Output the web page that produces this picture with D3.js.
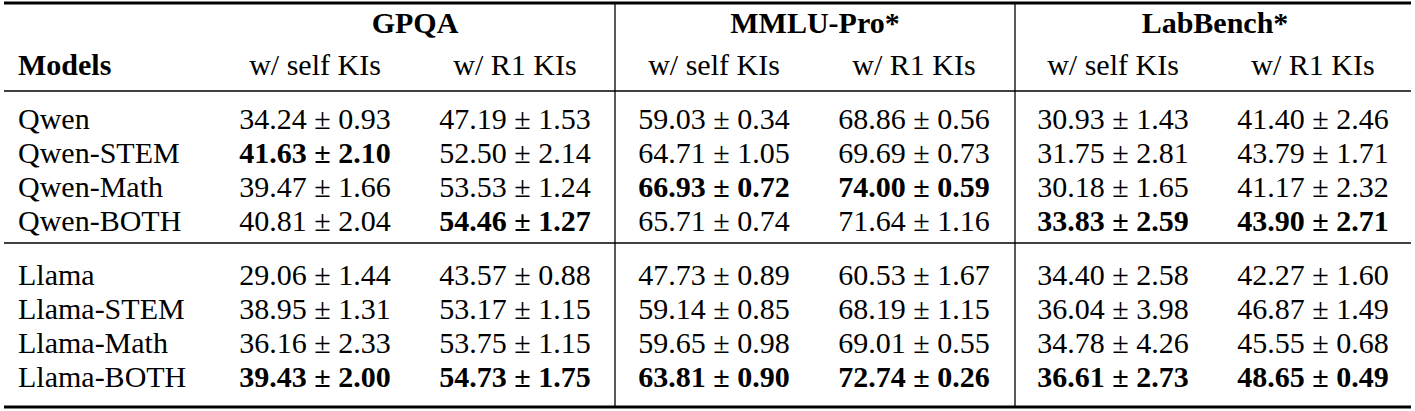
<!DOCTYPE html>
<html><head><meta charset="utf-8">
<script src="https://cdn.jsdelivr.net/npm/d3@7"></script>
<style>body{margin:0;background:#fff}</style></head>
<body><svg id="c" width="1415" height="411"></svg>
<script>
const groups = ["GPQA", "MMLU-Pro*", "LabBench*"];
const subHeaders = ["w/ self KIs", "w/ R1 KIs"];
const qwenModels = ["Qwen", "Qwen-STEM", "Qwen-Math", "Qwen-BOTH"];
const llamaModels = ["Llama", "Llama-STEM", "Llama-Math", "Llama-BOTH"];
const qwenValues = [
 ["34.24 ± 0.93","47.19 ± 1.53","59.03 ± 0.34","68.86 ± 0.56","30.93 ± 1.43","41.40 ± 2.46"],
 ["41.63 ± 2.10","52.50 ± 2.14","64.71 ± 1.05","69.69 ± 0.73","31.75 ± 2.81","43.79 ± 1.71"],
 ["39.47 ± 1.66","53.53 ± 1.24","66.93 ± 0.72","74.00 ± 0.59","30.18 ± 1.65","41.17 ± 2.32"],
 ["40.81 ± 2.04","54.46 ± 1.27","65.71 ± 0.74","71.64 ± 1.16","33.83 ± 2.59","43.90 ± 2.71"]];
const llamaValues = [
 ["29.06 ± 1.44","43.57 ± 0.88","47.73 ± 0.89","60.53 ± 1.67","34.40 ± 2.58","42.27 ± 1.60"],
 ["38.95 ± 1.31","53.17 ± 1.15","59.14 ± 0.85","68.19 ± 1.15","36.04 ± 3.98","46.87 ± 1.49"],
 ["36.16 ± 2.33","53.75 ± 1.15","59.65 ± 0.98","69.01 ± 0.55","34.78 ± 4.26","45.55 ± 0.68"],
 ["39.43 ± 2.00","54.73 ± 1.75","63.81 ± 0.90","72.74 ± 0.26","36.61 ± 2.73","48.65 ± 0.49"]];
const qwenBold = [[1,0],[3,1],[2,2],[2,3],[3,4],[3,5]];
const llamaBold = [[3,0],[3,1],[3,2],[3,3],[3,4],[3,5]];

const svg = d3.select("#c");
const F = "'Liberation Serif','Times New Roman',serif";
const cx = [315,515,714,914,1113,1313];
const gx = [415,815,1215];
const text = (x,y,s,o={}) => svg.append("text").attr("x",x).attr("y",y).text(s)
  .attr("font-family",F).attr("font-size",30).attr("fill","#000")
  .attr("text-anchor",o.anchor||"middle").attr("font-weight",o.bold?"bold":"normal");
const hline = (y,w) => svg.append("line").attr("x1",4).attr("x2",1411).attr("y1",y).attr("y2",y).attr("stroke","#000").attr("stroke-width",w);

hline(3,3); hline(91,1.6); hline(243,1.6); hline(407,3);
[615,1015].forEach(x=>svg.append("line").attr("x1",x).attr("x2",x).attr("y1",4).attr("y2",406).attr("stroke","#000").attr("stroke-width",1.3));

groups.forEach((g,i)=>text(gx[i],33,g,{bold:true}));
text(18,75,"Models",{anchor:"start",bold:true});
cx.forEach((x,i)=>text(x,75,subHeaders[i%2]));

function block(models, vals, bold, y0){
  models.forEach((m,r)=>{
    const y = y0 + r*34;
    text(18,y,m,{anchor:"start"});
    vals[r].forEach((v,c)=>text(cx[c],y,v,{bold:bold.some(b=>b[0]===r&&b[1]===c)}));
  });
}
block(qwenModels, qwenValues, qwenBold, 129);
block(llamaModels, llamaValues, llamaBold, 285);
</script></body></html>
